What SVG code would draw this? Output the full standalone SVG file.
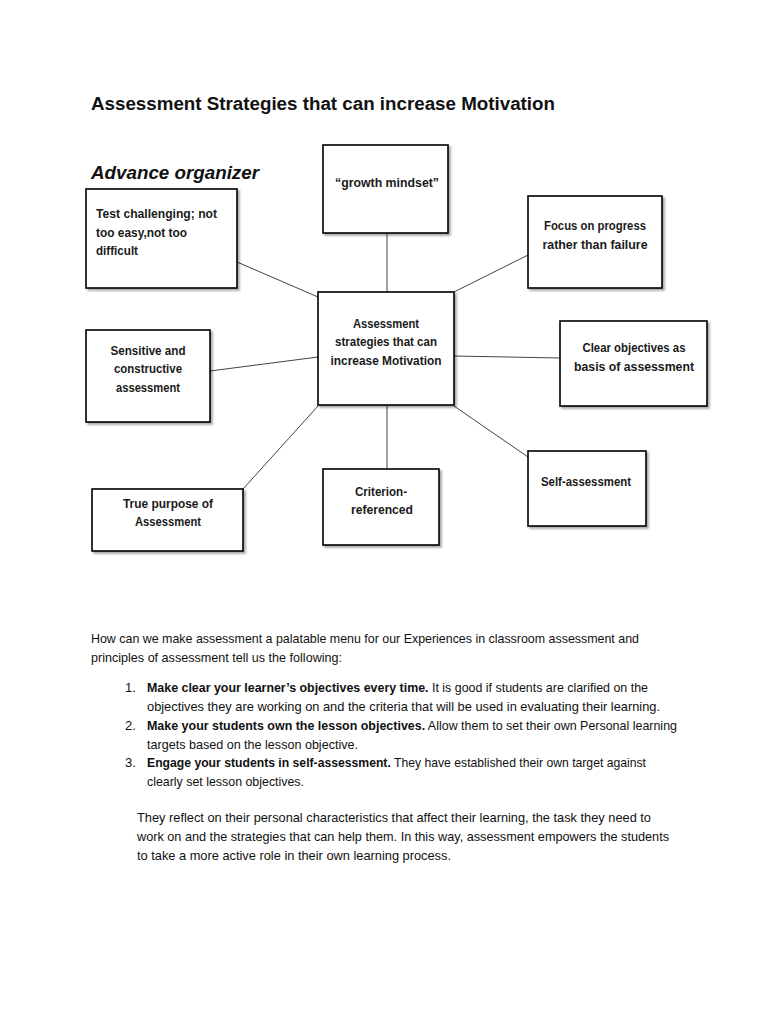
<svg xmlns="http://www.w3.org/2000/svg" width="768" height="1024" viewBox="0 0 768 1024">
<defs>
<filter id="sh" x="-10%" y="-10%" width="130%" height="130%">
<feDropShadow dx="2" dy="2" stdDeviation="1.2" flood-color="#000" flood-opacity="0.35"/>
</filter>
<style>
.bg{fill:#ffffff}
.box{fill:#ffffff;stroke:#000;stroke-width:1.6;filter:url(#sh)}
.lbl{font-family:"Liberation Sans Narrow","Liberation Sans",Arial,sans-serif;font-size:12.5px;font-weight:bold;fill:#1a1a1a}
.c{text-anchor:middle}
.body{font-family:"Liberation Sans Narrow","Liberation Sans",Arial,sans-serif;font-size:13px;fill:#111}
.b{font-weight:bold}
.title{font-family:"Liberation Sans",Arial,sans-serif;font-size:18px;font-weight:bold;fill:#111}
.sub{font-family:"Liberation Sans",Arial,sans-serif;font-size:19px;font-weight:bold;font-style:italic;fill:#111}
.con{stroke:#444;stroke-width:1;fill:none}
</style>
</defs>
<rect class="bg" x="0" y="0" width="768" height="1024"/>

<text class="title" x="91" y="110" textLength="464" lengthAdjust="spacingAndGlyphs">Assessment Strategies that can increase Motivation</text>
<text class="sub" x="91" y="179" textLength="168" lengthAdjust="spacingAndGlyphs">Advance organizer</text>

<g id="connectors">
<line class="con" x1="237" y1="262" x2="318" y2="297"/>
<line class="con" x1="387" y1="233" x2="387" y2="292" stroke-width="1.3"/>
<line class="con" x1="528" y1="255" x2="454" y2="292"/>
<line class="con" x1="210" y1="371" x2="318" y2="357"/>
<line class="con" x1="454" y1="356" x2="560" y2="358" stroke-width="1.3"/>
<line class="con" x1="243" y1="489" x2="318" y2="406"/>
<line class="con" x1="387" y1="406" x2="387" y2="469" stroke-width="1.5"/>
<line class="con" x1="454" y1="406" x2="528" y2="457"/>
</g>

<g id="node-center">
<rect class="box" x="318" y="292" width="136" height="113"/>
<text class="lbl c" x="386" y="328" textLength="66" lengthAdjust="spacingAndGlyphs">Assessment</text>
<text class="lbl c" x="386" y="346" textLength="102" lengthAdjust="spacingAndGlyphs">strategies that can</text>
<text class="lbl c" x="386" y="365" textLength="111" lengthAdjust="spacingAndGlyphs">increase Motivation</text>
</g>

<g id="node-test">
<rect class="box" x="86" y="189" width="151" height="99"/>
<text class="lbl" x="96" y="218" textLength="121" lengthAdjust="spacingAndGlyphs">Test challenging; not</text>
<text class="lbl" x="96" y="237" textLength="91" lengthAdjust="spacingAndGlyphs">too easy,not too</text>
<text class="lbl" x="96" y="255" textLength="42" lengthAdjust="spacingAndGlyphs">difficult</text>
</g>

<g id="node-growth">
<rect class="box" x="323" y="145" width="125" height="88"/>
<text class="lbl c" x="387" y="187" textLength="104" lengthAdjust="spacingAndGlyphs">“growth mindset”</text>
</g>

<g id="node-focus">
<rect class="box" x="528" y="196" width="134" height="92"/>
<text class="lbl c" x="595" y="230" textLength="102" lengthAdjust="spacingAndGlyphs">Focus on progress</text>
<text class="lbl c" x="595" y="249" textLength="105" lengthAdjust="spacingAndGlyphs">rather than failure</text>
</g>

<g id="node-sensitive">
<rect class="box" x="86" y="330" width="124" height="92"/>
<text class="lbl c" x="148" y="355" textLength="75" lengthAdjust="spacingAndGlyphs">Sensitive and</text>
<text class="lbl c" x="148" y="373" textLength="68" lengthAdjust="spacingAndGlyphs">constructive</text>
<text class="lbl c" x="148" y="392" textLength="64" lengthAdjust="spacingAndGlyphs">assessment</text>
</g>

<g id="node-clear">
<rect class="box" x="560" y="321" width="147" height="85"/>
<text class="lbl c" x="634" y="352" textLength="103" lengthAdjust="spacingAndGlyphs">Clear objectives as</text>
<text class="lbl c" x="634" y="371" textLength="120" lengthAdjust="spacingAndGlyphs">basis of assessment</text>
</g>

<g id="node-true">
<rect class="box" x="92" y="489" width="151" height="62"/>
<text class="lbl c" x="168" y="508" textLength="90" lengthAdjust="spacingAndGlyphs">True purpose of</text>
<text class="lbl c" x="168" y="526" textLength="66" lengthAdjust="spacingAndGlyphs">Assessment</text>
</g>

<g id="node-criterion">
<rect class="box" x="323" y="469" width="116" height="76"/>
<text class="lbl c" x="381" y="496" textLength="52" lengthAdjust="spacingAndGlyphs">Criterion-</text>
<text class="lbl c" x="382" y="514" textLength="62" lengthAdjust="spacingAndGlyphs">referenced</text>
</g>

<g id="node-self">
<rect class="box" x="528" y="451" width="118" height="75"/>
<text class="lbl c" x="586" y="486" textLength="90" lengthAdjust="spacingAndGlyphs">Self-assessment</text>
</g>

<g id="body-text">
<text class="body" x="91" y="643" textLength="548" lengthAdjust="spacingAndGlyphs">How can we make assessment a palatable menu for our Experiences in classroom assessment and</text>
<text class="body" x="91" y="662" textLength="251" lengthAdjust="spacingAndGlyphs">principles of assessment tell us the following:</text>

<text class="body" x="125" y="692">1.</text>
<text class="body" x="147" y="692" textLength="501" lengthAdjust="spacingAndGlyphs"><tspan class="b">Make clear your learner’s objectives every time.</tspan> It is good if students are clarified on the</text>
<text class="body" x="147" y="711" textLength="513" lengthAdjust="spacingAndGlyphs">objectives they are working on and the criteria that will be used in evaluating their learning.</text>

<text class="body" x="125" y="730">2.</text>
<text class="body" x="147" y="730" textLength="530" lengthAdjust="spacingAndGlyphs"><tspan class="b">Make your students own the lesson objectives.</tspan> Allow them to set their own Personal learning</text>
<text class="body" x="147" y="749" textLength="211" lengthAdjust="spacingAndGlyphs">targets based on the lesson objective.</text>

<text class="body" x="125" y="767">3.</text>
<text class="body" x="147" y="767" textLength="499" lengthAdjust="spacingAndGlyphs"><tspan class="b">Engage your students in self-assessment.</tspan> They have established their own target against</text>
<text class="body" x="147" y="786" textLength="157" lengthAdjust="spacingAndGlyphs">clearly set lesson objectives.</text>

<text class="body" x="137" y="822" textLength="514" lengthAdjust="spacingAndGlyphs">They reflect on their personal characteristics that affect their learning, the task they need to</text>
<text class="body" x="137" y="841" textLength="532" lengthAdjust="spacingAndGlyphs">work on and the strategies that can help them. In this way, assessment empowers the students</text>
<text class="body" x="137" y="860" textLength="314" lengthAdjust="spacingAndGlyphs">to take a more active role in their own learning process.</text>
</g>
</svg>
